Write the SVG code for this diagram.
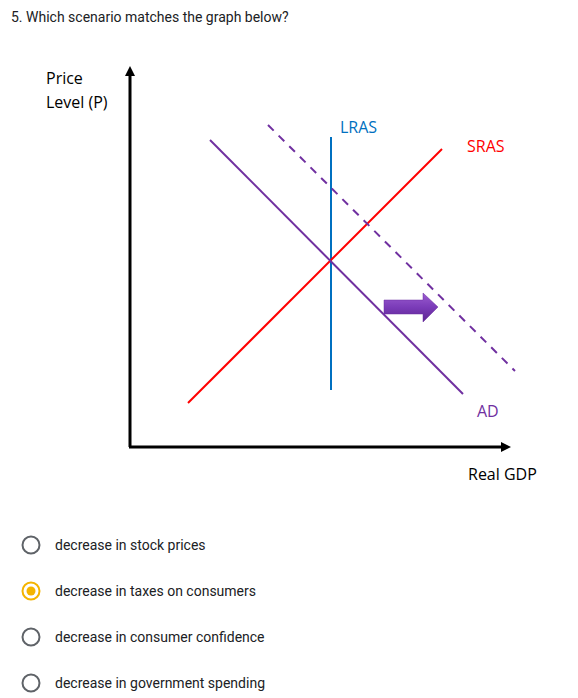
<svg xmlns="http://www.w3.org/2000/svg" width="578" height="698" viewBox="0 0 578 698">
<style>
.q{font-family:Roboto,"Liberation Sans",sans-serif;fill:#202124}
.g{font-family:"Open Sans","Liberation Sans",sans-serif;font-size:16px}
.rad{fill:none;stroke:#5f6368;stroke-width:2}
</style>
<defs>
<marker id="ah" markerWidth="10" markerHeight="10" refX="6" refY="5" orient="auto" markerUnits="userSpaceOnUse">
<path d="M0,0 L10,5 L0,10 Z" fill="#000"/>
</marker>
<linearGradient id="ag" x1="0" y1="0" x2="0" y2="1">
<stop offset="0" stop-color="#9b5cd0"/>
<stop offset="0.5" stop-color="#7a3bb8"/>
<stop offset="1" stop-color="#5e2590"/>
</linearGradient>
</defs>
<rect width="578" height="698" fill="#fff"/>
<text class="q" x="11" y="22" font-size="14">5. Which scenario matches the graph below?</text>
<g id="connectors">
<line x1="130" y1="447" x2="130" y2="70" stroke="#000" stroke-width="3" marker-end="url(#ah)"/>
<line x1="129" y1="447" x2="507" y2="447" stroke="#000" stroke-width="3" marker-end="url(#ah)"/>
<line x1="331" y1="137" x2="331" y2="390" stroke="#0070C0" stroke-width="2"/>
<line x1="188" y1="403" x2="442" y2="149" stroke="#FF0000" stroke-width="2"/>
<line x1="210" y1="140" x2="463" y2="394" stroke="#7030A0" stroke-width="2"/>
<line x1="268" y1="125" x2="515" y2="371" stroke="#7030A0" stroke-width="2" stroke-dasharray="8,7"/>
<path d="M384,300 L423,300 L423,293 L438,307 L423,322 L423,314 L384,314 Z" fill="url(#ag)" stroke="#6a2fa0" stroke-width="0.5"/>
</g>
<g id="labels">
<text class="g" x="46" y="84" fill="#000">Price</text>
<text class="g" x="46" y="108" fill="#000">Level (P)</text>
<text class="g" x="340" y="133" fill="#0070C0">LRAS</text>
<text class="g" x="467" y="152" fill="#FF0000">SRAS</text>
<text class="g" x="477" y="417" fill="#7030A0">AD</text>
<text class="g" x="468" y="480" fill="#000">Real GDP</text>
</g>
<g id="opt1"><circle class="rad" cx="31" cy="545" r="8.5"/><text class="q" x="55" y="550" font-size="14">decrease in stock prices</text></g>
<g id="opt2"><circle cx="31" cy="591" r="8.5" fill="none" stroke="#F4B400" stroke-width="2"/><circle cx="31" cy="591" r="4.5" fill="#F4B400"/><text class="q" x="55" y="596" font-size="14">decrease in taxes on consumers</text></g>
<g id="opt3"><circle class="rad" cx="31" cy="637" r="8.5"/><text class="q" x="55" y="642" font-size="14">decrease in consumer confidence</text></g>
<g id="opt4"><circle class="rad" cx="31" cy="683" r="8.5"/><text class="q" x="55" y="688" font-size="14">decrease in government spending</text></g>
</svg>
